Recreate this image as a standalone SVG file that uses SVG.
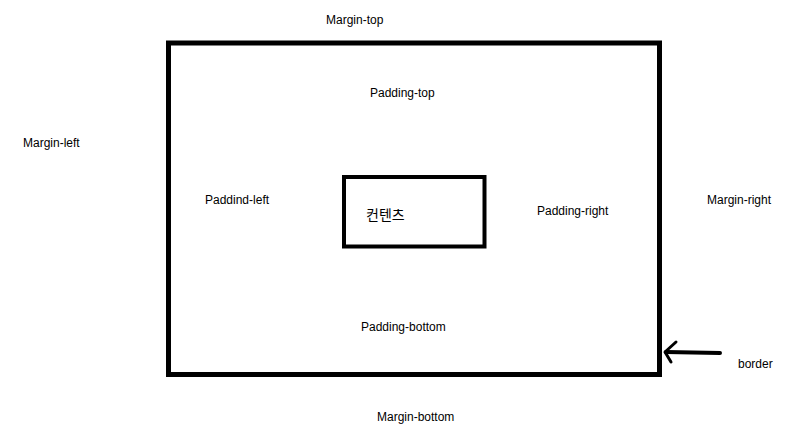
<svg xmlns="http://www.w3.org/2000/svg" width="800" height="444" viewBox="0 0 800 444">
<style>
.lbl{font-family:"Liberation Sans",Arial,sans-serif;font-size:12px;fill:#000}
.ko{font-family:"Liberation Sans","Noto Sans CJK KR",sans-serif;font-size:14px;fill:#000}
.box{fill:none;stroke:#000}
</style>
<rect width="800" height="444" fill="#fff"/>
<g id="margin-box">
<text class="lbl" x="326" y="24">Margin-top</text>
<text class="lbl" x="23" y="147">Margin-left</text>
<text class="lbl" x="707" y="204">Margin-right</text>
<text class="lbl" x="377" y="421">Margin-bottom</text>
</g>
<g id="border-box">
<rect class="box" x="168.5" y="43" width="491" height="331.5" stroke-width="5"/>
<text class="lbl" x="370" y="97">Padding-top</text>
<text class="lbl" x="205" y="204">Paddind-left</text>
<text class="lbl" x="537" y="215">Padding-right</text>
<text class="lbl" x="361" y="331">Padding-bottom</text>
</g>
<g id="content-box">
<rect class="box" x="344" y="177" width="140.5" height="69.5" stroke-width="4"/>
<text class="ko" x="366" y="220">컨텐츠</text>
</g>
<g id="connectors">
<path d="M666 352 L720 353" fill="none" stroke="#000" stroke-width="4" stroke-linecap="round"/>
<path d="M676 342 L665 352 L671 362" fill="none" stroke="#000" stroke-width="3" stroke-linecap="round" stroke-linejoin="round"/>
</g>
<g id="border-label">
<text class="lbl" x="738" y="368">border</text>
</g>
</svg>
